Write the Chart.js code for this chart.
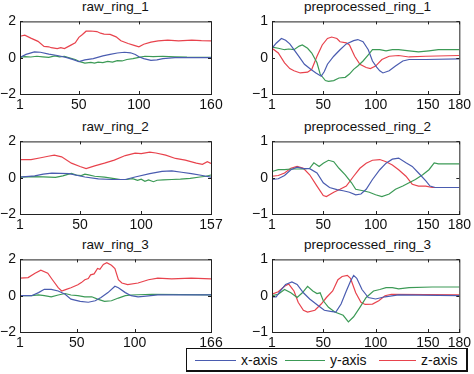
<!DOCTYPE html>
<html>
<head>
<meta charset="utf-8">
<script src="https://cdn.jsdelivr.net/npm/chart.js@4.4.1/dist/chart.umd.min.js"></script>
<style>
  body { margin: 0; background: #fff; width: 474px; height: 374px; overflow: hidden; position: relative;
         font-family: "Liberation Sans", Arial, sans-serif; }
  canvas { position: absolute; }
  .ttl { position: absolute; width: 191px; height: 16px; line-height: 16px; text-align: center;
         font-size: 13.5px; color: #111; }
  #legend { position: absolute; left: 186px; top: 348px; width: 279px; height: 21px;
            border: 1px solid #111; border-bottom-width: 2px; border-right-width: 2px; background: #fff; }
  .lg-line { position: absolute; height: 0; border-top: 1.3px solid; top: 360px; }
  .lg-txt { position: absolute; top: 352px; font-size: 14px; line-height: 16px; color: #111; }
</style>
</head>
<body>

<div class="ttl" style="left:20px;top:-1px">raw_ring_1</div>
<div class="ttl" style="left:272px;top:-1px">preprocessed_ring_1</div>
<div class="ttl" style="left:20px;top:119px">raw_ring_2</div>
<div class="ttl" style="left:272px;top:119px">preprocessed_ring_2</div>
<div class="ttl" style="left:20px;top:237px">raw_ring_3</div>
<div class="ttl" style="left:272px;top:237px">preprocessed_ring_3</div>

<canvas id="c1" width="237" height="110" style="left:0;top:9px"></canvas>
<canvas id="c2" width="237" height="110" style="left:237px;top:9px"></canvas>
<canvas id="c3" width="237" height="110" style="left:0;top:129px"></canvas>
<canvas id="c4" width="237" height="110" style="left:237px;top:129px"></canvas>
<canvas id="c5" width="237" height="110" style="left:0;top:247px"></canvas>
<canvas id="c6" width="237" height="110" style="left:237px;top:247px"></canvas>

<div id="legend"></div>
<div class="lg-line" style="left:195px;width:41px;border-color:#4a5cb0"></div>
<div class="lg-txt" style="left:241px">x-axis</div>
<div class="lg-line" style="left:285px;width:40px;border-color:#3c9a56"></div>
<div class="lg-txt" style="left:330px">y-axis</div>
<div class="lg-line" style="left:379px;width:37px;border-color:#e8434d"></div>
<div class="lg-txt" style="left:421px">z-axis</div>

<script>
// axis ticks
const rawYTicks = [-2, 0, 2];
const prepYTicks = [-1, 0, 1];
const raw1XTicks = [1, 50, 100, 160];
const raw2XTicks = [1, 50, 100, 157];
const raw3XTicks = [1, 50, 100, 166];
const prepXTicks = [1, 50, 100, 150, 180];

// series values as [sample index, value]
const raw1_x = [[1,0.02],[6,0.18],[13,0.32],[18,0.3],[25,0.2],[32,0.12],[40,0.0],[46,-0.12],[50,-0.22],[55,-0.12],[62,-0.05],[70,0.1],[76,0.18],[82,0.26],[88,0.3],[93,0.27],[97,0.18],[100,0.05],[104,-0.05],[110,-0.15],[115,-0.12],[120,-0.05],[130,0.0],[160,0.0]];
const raw1_y = [[1,0.02],[5,0.06],[10,0.04],[15,0.08],[20,0.05],[25,0.02],[30,0.1],[34,0.05],[38,0.08],[42,0.0],[47,-0.1],[50,-0.2],[55,-0.3],[60,-0.26],[63,-0.3],[66,-0.24],[70,-0.27],[74,-0.2],[78,-0.24],[82,-0.16],[86,-0.18],[90,-0.1],[95,-0.05],[100,0.02],[105,0.08],[112,0.06],[120,0.08],[130,0.05],[140,0.03],[160,0.02]];
const raw1_z = [[1,1.18],[5,1.24],[10,1.08],[16,0.9],[21,0.62],[25,0.6],[27,0.55],[32,0.5],[35,0.55],[38,0.5],[43,0.68],[47,0.82],[50,1.12],[53,1.28],[56,1.46],[60,1.47],[65,1.44],[68,1.35],[71,1.3],[76,1.28],[81,1.15],[85,0.93],[91,0.78],[96,0.68],[100,0.6],[104,0.74],[110,0.86],[116,0.93],[124,0.97],[133,0.93],[144,0.97],[152,0.94],[160,0.93]];

const prep1_x = [[1,0.26],[5,0.4],[10,0.53],[14,0.48],[18,0.38],[22,0.22],[27,0.02],[32,-0.18],[38,-0.32],[43,-0.42],[48,-0.51],[51,-0.38],[54,-0.18],[60,0.04],[66,0.22],[72,0.38],[79,0.47],[83,0.5],[88,0.44],[93,0.22],[97,-0.09],[101,-0.26],[104,-0.36],[107,-0.42],[113,-0.36],[119,-0.23],[126,-0.09],[132,-0.05],[148,-0.05],[180,-0.03]];
const prep1_y = [[1,0.29],[7,0.26],[13,0.22],[17,0.24],[22,0.22],[27,0.32],[30,0.35],[35,0.26],[39,0.13],[44,-0.14],[47,-0.45],[52,-0.63],[55,-0.65],[60,-0.63],[65,-0.56],[71,-0.54],[75,-0.45],[79,-0.32],[83,-0.23],[88,-0.09],[93,0.08],[97,0.22],[104,0.22],[110,0.19],[116,0.22],[122,0.22],[132,0.19],[141,0.16],[151,0.19],[160,0.22],[180,0.22]];
const prep1_z = [[1,0.26],[7,0.13],[13,-0.14],[18,-0.3],[22,-0.36],[28,-0.42],[35,-0.4],[39,-0.32],[44,0.04],[49,0.35],[54,0.53],[58,0.57],[63,0.53],[66,0.44],[72,0.41],[75,0.35],[80,0.04],[85,-0.18],[91,-0.27],[95,-0.3],[100,-0.23],[106,-0.05],[113,0.04],[122,0.06],[132,0.02],[148,0.04],[180,0.06]];

const raw2_x = [[1,0.03],[13,0.1],[20,0.2],[27,0.25],[41,0.22],[54,0.04],[65,-0.06],[76,-0.1],[87,-0.1],[95,0.04],[107,0.22],[117,0.35],[125,0.38],[133,0.3],[141,0.22],[150,0.12],[157,0.03]];
const raw2_y = [[1,0.03],[10,0.06],[20,0.04],[30,0.02],[36,0.1],[40,0.18],[43,0.24],[47,0.14],[51,0.12],[54,0.2],[57,0.16],[62,0.08],[70,0.03],[78,-0.05],[83,-0.1],[88,-0.1],[93,-0.05],[97,-0.15],[100,-0.08],[103,-0.2],[106,-0.12],[110,-0.22],[113,-0.14],[118,-0.12],[125,-0.1],[132,-0.08],[140,-0.04],[148,0.04],[153,0.08],[157,0.15]];
const raw2_z = [[1,1.0],[10,1.0],[18,1.1],[24,1.18],[29,1.24],[35,1.15],[43,0.8],[50,0.62],[55,0.5],[62,0.65],[70,0.8],[78,0.97],[87,1.22],[95,1.35],[100,1.33],[107,1.41],[112,1.36],[120,1.24],[128,1.06],[136,0.97],[145,0.8],[150,0.74],[154,0.88],[157,0.78]];

const prep2_x = [[1,-0.05],[7,-0.03],[13,0.06],[19,0.22],[25,0.29],[31,0.25],[37,0.25],[44,0.13],[50,-0.14],[56,-0.27],[63,-0.33],[69,-0.36],[75,-0.4],[81,-0.47],[86,-0.45],[91,-0.32],[97,-0.05],[104,0.22],[110,0.4],[116,0.51],[122,0.54],[129,0.41],[135,0.31],[141,0.13],[148,-0.09],[152,-0.23],[157,-0.27],[180,-0.27]];
const prep2_y = [[1,0.17],[7,0.22],[13,0.22],[19,0.24],[31,0.24],[37,0.26],[41,0.41],[46,0.31],[50,0.4],[55,0.48],[60,0.44],[65,0.26],[71,0.08],[77,-0.14],[81,-0.32],[88,-0.36],[94,-0.4],[100,-0.47],[106,-0.52],[113,-0.45],[119,-0.32],[126,-0.23],[132,-0.14],[138,-0.05],[145,0.08],[151,0.22],[156,0.41],[160,0.38],[180,0.38]];
const prep2_z = [[1,0.04],[7,0.06],[13,0.13],[19,0.26],[25,0.31],[31,0.26],[37,0.08],[44,-0.23],[50,-0.49],[53,-0.52],[60,-0.4],[66,-0.32],[72,-0.23],[79,0.04],[85,0.26],[91,0.4],[97,0.48],[104,0.5],[110,0.44],[116,0.35],[122,0.22],[129,0.04],[135,-0.18],[141,-0.23],[148,-0.23],[154,-0.27],[180,-0.27]];

const raw3_x = [[1,0],[11,0],[17,0.17],[22,0.35],[28,0.35],[34,0.26],[40,0.08],[45,-0.19],[53,-0.31],[60,-0.36],[66,-0.28],[71,-0.1],[77,0.17],[83,0.52],[86,0.44],[92,0.17],[97,0],[103,-0.06],[112,-0.01],[120,0.04],[166,0.04]];
const raw3_y = [[1,0],[11,0],[17,0.04],[22,0],[28,-0.06],[34,0.04],[40,0.12],[45,0.04],[51,0],[57,-0.06],[63,-0.06],[68,-0.19],[74,-0.31],[80,-0.28],[86,-0.13],[92,0],[97,0.04],[115,0.08],[166,0.04]];
const raw3_z = [[1,0.97],[8,1.0],[14,1.24],[19,1.41],[25,1.24],[29,0.88],[34,0.44],[37,0.26],[41,0.35],[45,0.44],[51,0.6],[54,0.72],[57,0.88],[60,0.95],[62,1.15],[65,1.2],[68,1.5],[70,1.45],[73,1.72],[76,1.82],[80,1.68],[83,1.5],[86,0.88],[89,0.7],[94,0.61],[103,0.7],[112,0.88],[120,0.97],[132,0.93],[149,0.97],[166,0.93]];

const prep3_x = [[1,-0.03],[5,-0.03],[9,0.13],[14,0.31],[20,0.38],[25,0.31],[31,0.08],[37,-0.09],[45,-0.27],[51,-0.4],[57,-0.43],[62,-0.45],[67,-0.23],[72,0.13],[76,0.4],[79,0.56],[82,0.48],[87,0.17],[93,-0.05],[100,-0.09],[109,-0.03],[122,0.02],[180,0]];
const prep3_y = [[1,0],[7,0.04],[13,0.17],[19,0.08],[25,-0.05],[30,0.08],[35,0.26],[40,0.13],[44,0.06],[47,0.08],[50,-0.14],[55,-0.32],[61,-0.45],[69,-0.54],[74,-0.72],[79,-0.58],[85,-0.32],[91,-0.05],[98,0.13],[104,0.17],[110,0.22],[116,0.22],[122,0.19],[132,0.22],[154,0.24],[180,0.24]];
const prep3_z = [[1,0.04],[7,0.11],[13,0.26],[17,0.32],[22,0.13],[26,-0.18],[31,-0.4],[35,-0.45],[42,-0.4],[48,-0.23],[53,-0.05],[59,0.13],[64,0.44],[68,0.53],[73,0.56],[76,0.48],[81,0.08],[86,-0.18],[90,-0.24],[97,-0.23],[103,-0.14],[109,0],[115,0.04],[180,0.02]];

const seriesColors = ['#4a5cb0', '#3c9a56', '#e8434d'];
const seriesNames = ['x-axis', 'y-axis', 'z-axis'];

const panels = [
  { id: 'c1', series: [raw1_x, raw1_y, raw1_z], xTicks: raw1XTicks, yTicks: rawYTicks, left: true },
  { id: 'c2', series: [prep1_x, prep1_y, prep1_z], xTicks: prepXTicks, yTicks: prepYTicks, left: false },
  { id: 'c3', series: [raw2_x, raw2_y, raw2_z], xTicks: raw2XTicks, yTicks: rawYTicks, left: true },
  { id: 'c4', series: [prep2_x, prep2_y, prep2_z], xTicks: prepXTicks, yTicks: prepYTicks, left: false },
  { id: 'c5', series: [raw3_x, raw3_y, raw3_z], xTicks: raw3XTicks, yTicks: rawYTicks, left: true },
  { id: 'c6', series: [prep3_x, prep3_y, prep3_z], xTicks: prepXTicks, yTicks: prepYTicks, left: false },
];

// matlab style box with inward ticks
const boxPlugin = {
  id: 'box',
  afterDraw(chart) {
    const { ctx, chartArea: a, scales } = chart;
    ctx.save();
    ctx.strokeStyle = '#222';
    ctx.lineWidth = 1;
    ctx.strokeRect(a.left + 0.5, a.top + 0.5, a.right - a.left, a.bottom - a.top);
    ctx.beginPath();
    scales.x.ticks.forEach(t => {
      const p = Math.round(scales.x.getPixelForValue(t.value)) + 0.5;
      ctx.moveTo(p, a.bottom); ctx.lineTo(p, a.bottom - 3);
      ctx.moveTo(p, a.top); ctx.lineTo(p, a.top + 3);
    });
    scales.y.ticks.forEach(t => {
      const p = Math.round(scales.y.getPixelForValue(t.value)) + 0.5;
      ctx.moveTo(a.left, p); ctx.lineTo(a.left + 3, p);
      ctx.moveTo(a.right, p); ctx.lineTo(a.right - 3, p);
    });
    ctx.stroke();
    ctx.restore();
  }
};

const tickFont = { family: '"Liberation Sans", Arial, sans-serif', size: 14 };
const minus = v => (v < 0 ? '\u2212' + Math.abs(v) : String(v));

panels.forEach(p => {
  const xt = p.xTicks, yt = p.yTicks;
  new Chart(document.getElementById(p.id), {
    type: 'line',
    data: {
      datasets: p.series.map((s, i) => ({
        label: seriesNames[i],
        data: s.map(([x, y]) => ({ x, y })),
        borderColor: seriesColors[i],
        borderWidth: 1.2,
        pointRadius: 0,
        tension: 0,
        fill: false
      }))
    },
    options: {
      responsive: false,
      animation: false,
      layout: { padding: { top: 10, right: p.left ? 26 : 11, left: 0, bottom: 0 } },
      plugins: { legend: { display: false }, tooltip: { enabled: false } },
      scales: {
        x: {
          type: 'linear',
          min: xt[0], max: xt[xt.length - 1],
          afterBuildTicks: s => { s.ticks = xt.map(v => ({ value: v })); },
          afterFit: s => { s.height = 25; },
          grid: { display: false, drawTicks: false },
          border: { display: false },
          ticks: { font: tickFont, color: '#111', padding: 3, maxRotation: 0, autoSkip: false, callback: v => String(v) }
        },
        y: {
          min: yt[0], max: yt[yt.length - 1],
          afterBuildTicks: s => { s.ticks = yt.map(v => ({ value: v })); },
          afterFit: s => { s.width = p.left ? 20 : 35; },
          grid: { display: false, drawTicks: false },
          border: { display: false },
          ticks: { font: tickFont, color: '#111', padding: 4, callback: minus }
        }
      }
    },
    plugins: [boxPlugin]
  });
});
</script>
</body>
</html>
